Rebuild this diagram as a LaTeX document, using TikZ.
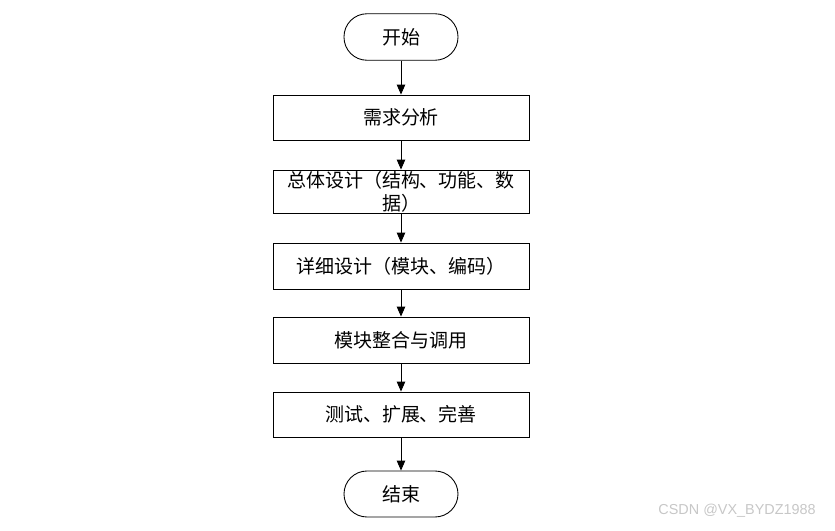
\documentclass[tikz,border=0pt]{standalone}
\usepackage{fontspec}
\newfontfamily\cjk{Noto Sans CJK SC}
\setsansfont{Liberation Sans}
\usetikzlibrary{arrows.meta}
\tikzset{
  terminal/.style={draw=black,line width=0.5pt,rounded corners=0.46cm,minimum width=2.28cm,minimum height=0.93cm,inner sep=0pt,align=center,font=\cjk\fontsize{10.8}{13}\selectfont,fill=white},
  process/.style={draw=black,line width=0.5pt,minimum width=5.12cm,minimum height=0.9cm,inner sep=0pt,align=center,font=\cjk\fontsize{10.8}{13}\selectfont,fill=white},
  flow/.style={-{Triangle[length=2mm,width=1.7mm]},line width=0.5pt,draw=black},
  watermark/.style={font=\sffamily\fontsize{8.2}{10}\selectfont,text=black!22,inner sep=0pt}
}
\begin{document}
\begin{tikzpicture}
\useasboundingbox (0,0) rectangle (16.7,-10.62);
\node[terminal] (start) at (8.02,-0.74) {开始};
\node[process] (analysis) at (8.02,-2.35) {需求分析};
\node[process,minimum height=0.86cm] (design) at (8.02,-3.83) {总体设计（结构、功能、数\\据）};
\node[process,minimum height=0.92cm] (detail) at (8.02,-5.32) {详细设计（模块、编码）};
\node[process,minimum height=0.92cm] (integrate) at (8.02,-6.8) {模块整合与调用};
\node[process] (test) at (8.02,-8.29) {测试、扩展、完善};
\node[terminal,minimum height=0.92cm] (finish) at (8.02,-9.88) {结束};

\draw[flow] (start) -- (analysis);
\draw[flow] (analysis) -- (design);
\draw[flow] (design) -- (detail);
\draw[flow] (detail) -- (integrate);
\draw[flow] (integrate) -- (test);
\draw[flow] (test) -- (finish);

\node[watermark,anchor=east] (csdn) at (16.32,-10.22) {CSDN @VX\_BYDZ1988};
\end{tikzpicture}
\end{document}
